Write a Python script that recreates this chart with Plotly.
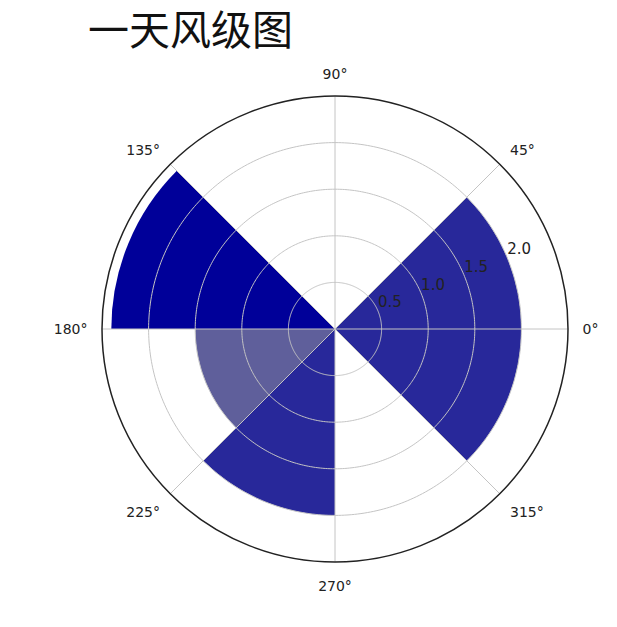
import plotly.graph_objects as go

# data
directions = [22.5, 67.5, 112.5, 157.5, 202.5, 247.5, 292.5, 337.5]
levels = [2.0, 0.0, 0.0, 2.4, 1.5, 2.0, 0.0, 2.0]
bar_colors = ["#28289a", "#28289a", "#28289a", "#000099", "#5f5f9b", "#28289a", "#28289a", "#28289a"]
radial_ticks = [0.5, 1.0, 1.5, 2.0]
angle_ticks = [0, 45, 90, 135, 180, 225, 270, 315]
title_text = "一天风级图"

# page body has 8px margin
W, H = 601, 611
cx, cy, R = 327, 321, 233

fig = go.Figure()
fig.add_trace(go.Barpolar(
    r=levels, theta=directions, width=[45] * len(levels),
    marker=dict(color=bar_colors, line=dict(width=0)),
    hoverinfo="skip", showlegend=False,
))

grid_color = "#c4c4c4"
# gridlines drawn above bars (as matplotlib does)
for rv in radial_ticks:
    fig.add_trace(go.Scatterpolar(
        r=[rv] * 361, theta=list(range(361)), mode="lines",
        line=dict(color=grid_color, width=1), hoverinfo="skip", showlegend=False))
for a in angle_ticks:
    fig.add_trace(go.Scatterpolar(
        r=[0, 2.5], theta=[a, a], mode="lines",
        line=dict(color=grid_color, width=1), hoverinfo="skip", showlegend=False))

fig.add_trace(go.Scatterpolar(
    r=radial_ticks, theta=[22.5] * len(radial_ticks), mode="text",
    text=[f"{v:.1f}" for v in radial_ticks], textposition="top right",
    textfont=dict(family="DejaVu Sans", size=15, color="#222222"),
    hoverinfo="skip", showlegend=False))

fig.update_layout(
    width=W, height=H, autosize=False,
    margin=dict(l=0, r=0, t=0, b=0),
    paper_bgcolor="white",
    font=dict(family="DejaVu Sans", size=14, color="#222222"),
    title=dict(text=title_text, x=80 / W, xanchor="left", y=1, yanchor="top",
               pad=dict(t=8),
               font=dict(family="Liberation Sans, Noto Sans CJK SC", size=41, color="#111111")),
    polar=dict(
        domain=dict(x=[(cx - R) / W, (cx + R) / W], y=[(H - cy - R) / H, (H - cy + R) / H]),
        bgcolor="white",
        radialaxis=dict(range=[0, 2.5], showticklabels=False, showgrid=False, showline=False,
                        ticks="", tickvals=radial_ticks),
        angularaxis=dict(rotation=0, direction="counterclockwise", tickvals=angle_ticks,
                         ticktext=[f"{a}°" for a in angle_ticks], showgrid=False,
                         showline=True, linecolor="#222222", linewidth=1.5,
                         ticks="outside", ticklen=11, tickcolor="rgba(0,0,0,0)",
                         tickfont=dict(family="DejaVu Sans", size=14, color="#222222")),
    ),
)

fig.write_html("out.html")
